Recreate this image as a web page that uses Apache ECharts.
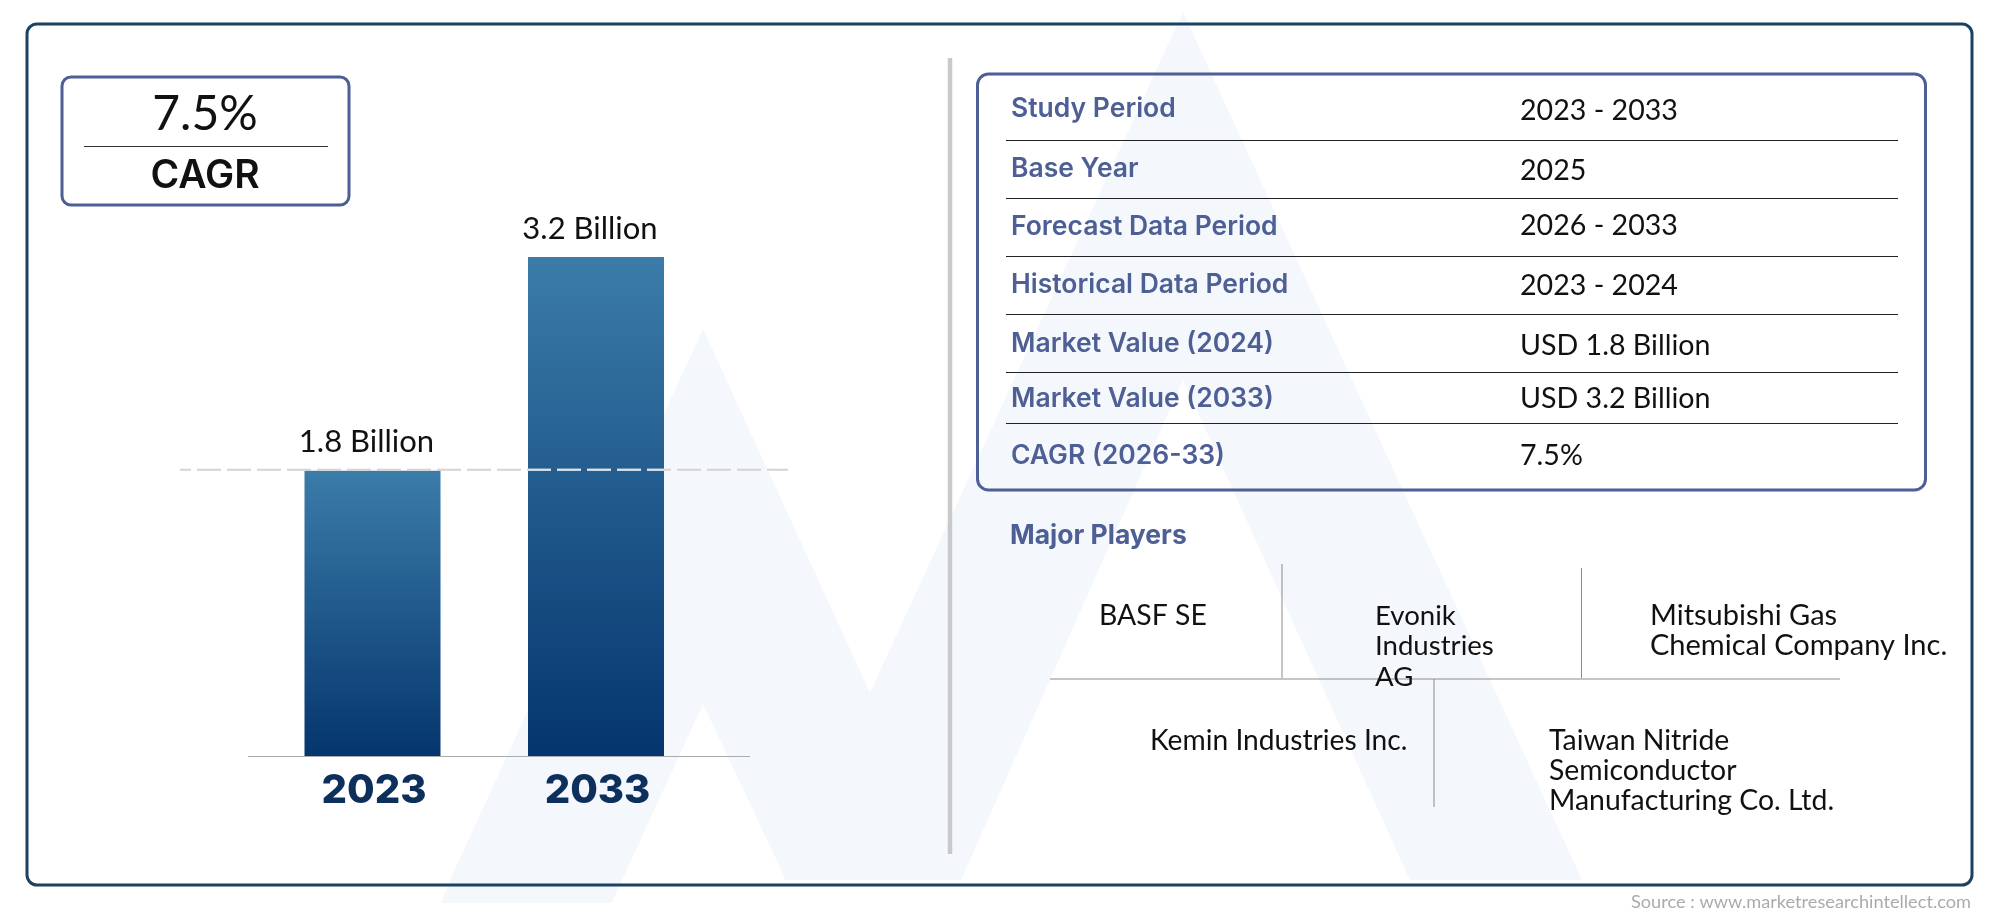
<!DOCTYPE html>
<html><head><meta charset="utf-8">
<style>html,body{margin:0;padding:0;background:#fff}#c{width:2000px;height:917px}</style>
<script src="https://cdn.jsdelivr.net/npm/echarts@6/dist/echarts.min.js"></script>
</head><body><div id="c"></div>
<script>
const years = ['2023', '2033'];
const marketValues = [1.83, 3.2];
const barLabels = ['1.8 Billion', '3.2 Billion'];
const dashedLevel = 1.835;
const cagrValue = '7.5%';
const cagrLabel = 'CAGR';
const rowLabels = ['Study Period', 'Base Year', 'Forecast Data Period', 'Historical Data Period', 'Market Value (2024)', 'Market Value (2033)', 'CAGR (2026-33)'];
const rowValues = ['2023 - 2033', '2025', '2026 - 2033', '2023 - 2024', 'USD 1.8 Billion', 'USD 3.2 Billion', '7.5%'];
const playersHeading = 'Major Players';
const playerBasf = ['BASF SE'];
const playerEvonik = ['Evonik', 'Industries', 'AG'];
const playerMitsubishi = ['Mitsubishi Gas', 'Chemical Company Inc.'];
const playerKemin = ['Kemin Industries Inc.'];
const playerTaiwan = ['Taiwan Nitride', 'Semiconductor', 'Manufacturing Co. Ltd.'];
const sourceNote = 'Source : www.marketresearchintellect.com';

const BODY = 'Lato', HEAD = 'Inter';
const INK = '#4d5f94', FRAME = '#1b4261', WM = '#f4f7fb';
const rowLabelY = [109, 169, 227, 285, 344, 399, 456];
const rowValueY = [111, 171, 226, 286, 346, 399, 456];
const ruleY = [140.5, 198.5, 256.5, 314.5, 372.5, 423.5];

const chart = echarts.init(document.getElementById('c'), null, {renderer: 'canvas'});
chart.setOption({
  animation: false,
  backgroundColor: '#fff',
  grid: {left: 260.75, width: 447, top: 257, height: 499, containLabel: false},
  xAxis: {type: 'category', data: years, axisLine: {show: false}, axisTick: {show: false},
    axisLabel: {margin: 15, padding: [0, 0, 0, 3], fontFamily: HEAD, fontWeight: 800, fontSize: 40, color: '#0d2f5c'}},
  yAxis: {type: 'value', min: 0, max: 3.2, show: false, splitLine: {show: false}},
  series: [{
    type: 'bar', barWidth: 136, z: 3,
    data: marketValues,
    itemStyle: {color: new echarts.graphic.LinearGradient(0, 0, 0, 1, [
      {offset: 0, color: '#3b7ca9'}, {offset: 1, color: '#05356e'}])},
    label: {show: true, position: 'top', distance: 13, offset: [-6, 0], fontFamily: BODY, fontSize: 31, color: '#111',
      formatter: p => barLabels[p.dataIndex]}
  }]
});

function line(x1, y1, x2, y2, stroke, lineWidth, extra) {
  return {type: 'line', z: 5, silent: true, shape: {x1, y1, x2, y2}, style: Object.assign({stroke, lineWidth}, extra || {})};
}
function txt(x, y, text, font, size, fill, weight, align) {
  return {type: 'text', z: 6, silent: true, x, y, style: {text, fontFamily: font, fontSize: size, fontWeight: weight || 400, fill, align: align || 'left', verticalAlign: 'middle'}};
}
function box(x, y, width, height, stroke, lineWidth, r) {
  return {type: 'rect', z: 5, silent: true, shape: {x, y, width, height, r}, style: {fill: 'transparent', stroke, lineWidth}};
}
function poly(points) {
  return {type: 'polygon', z: 0, silent: true, shape: {points}, style: {fill: WM}};
}

const yDash = chart.convertToPixel({yAxisIndex: 0}, dashedLevel);
const dash = [24, 6];
const els = [
  poly([[703,329],[956,880],[786,880],[703,704],[622,880],[450,880]]),
  poly([[450,880],[622,880],[612,903],[441,903]]),
  poly([[1183,12],[1582,880],[1410,880],[1183,380],[961,880],[784,880]]),
  box(27, 24, 1945, 861, FRAME, 3, 10),
  line(950, 58, 950, 854, '#c9c9c9', 4.5),
  box(62, 77, 287, 128, INK, 3, 9),
  line(84, 146.5, 328, 146.5, '#333', 1),
  txt(205, 115, cagrValue, BODY, 48, '#111', 400, 'center'),
  txt(205, 176, cagrLabel, HEAD, 39, '#111', 600, 'center'),
  box(977.5, 74, 948, 416, INK, 3, 11),
  line(248, 756.5, 750, 756.5, '#a9abae', 1),
  line(180, yDash, 788, yDash, '#d4d4d4', 2, {lineDash: dash, lineDashOffset: 13}),
  line(528, yDash, 664, yDash, '#d5e3ee', 2, {lineDash: dash, lineDashOffset: 1}),
  line(1050, 679, 1840, 679, '#8b8b8b', 1.2),
  line(1282, 564, 1282, 678, '#8b8b8b', 1),
  line(1581.5, 568, 1581.5, 678, '#8b8b8b', 1),
  line(1434, 679, 1434, 807, '#8b8b8b', 1),
  txt(1010, 536, playersHeading, HEAD, 26.5, INK, 700),
  txt(1971, 902, sourceNote, BODY, 18.2, '#ababab', 400, 'right')
];
ruleY.forEach(y => els.push(line(1006, y, 1898, y, '#222', 1)));
rowLabels.forEach((t, i) => els.push(txt(1011, rowLabelY[i], t, HEAD, 26.5, INK, 600)));
rowValues.forEach((t, i) => els.push(txt(1520, rowValueY[i], t, BODY, 28.6, '#111')));
function stack(lines, x, ys, size) { lines.forEach((t, i) => els.push(txt(x, ys[i], t, BODY, size, '#111'))); }
stack(playerBasf, 1099, [616], 28.4);
stack(playerEvonik, 1375, [616, 646, 677], 27.6);
stack(playerMitsubishi, 1650, [616, 646], 29);
stack(playerKemin, 1150, [741], 28.2);
stack(playerTaiwan, 1549, [741, 771, 801], 28.4);

chart.setOption({graphic: {elements: els}});
</script></body></html>
